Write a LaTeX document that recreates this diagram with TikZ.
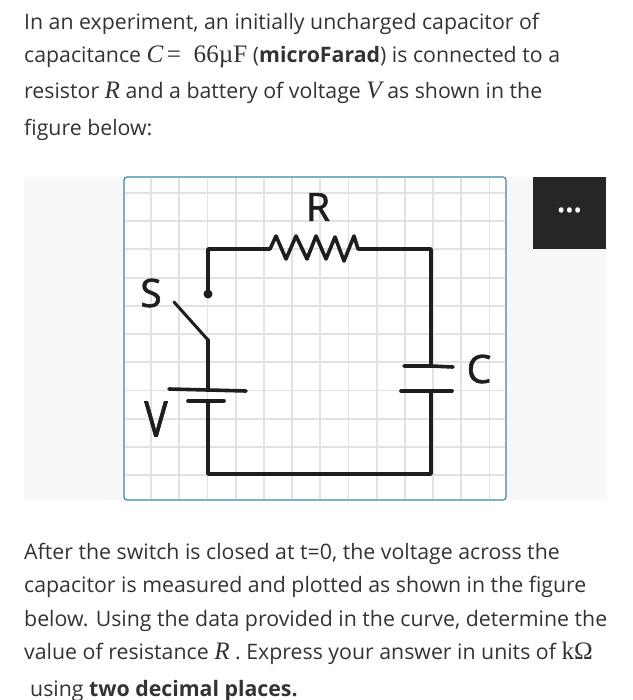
\documentclass[tikz,border=0pt]{standalone}
\usepackage{fontspec}
\setmainfont{Open Sans}
\newfontfamily\mathserif[Scale=1.18]{Liberation Serif}
\newfontfamily\handfont[FakeBold=1.6]{Open Sans}
\newcommand{\vbl}[1]{{\mathserif\itshape #1}}
\newcommand{\unt}[1]{{\mathserif #1}}
\definecolor{panelgray}{HTML}{F8F8F8}
\definecolor{gridgray}{HTML}{E2E2E4}
\definecolor{boxblue}{HTML}{3C86AC}
\definecolor{menudark}{HTML}{262626}
\definecolor{inkblack}{HTML}{1E1E1E}
\definecolor{textgray}{HTML}{333333}
\tikzset{
  textline/.style={anchor=base west, inner sep=0pt, text=textgray, font=\fontsize{21.3}{24}\selectfont},
  wire/.style={inkblack, line width=3.6pt, line join=round, line cap=round},
  plate/.style={inkblack, line width=3.6pt, line cap=round},
  letter/.style={inner sep=0pt, text=inkblack, font=\fontsize{39}{40}\handfont},
}
\begin{document}
\begin{tikzpicture}[x=1pt, y=-1pt]
\useasboundingbox (0,0) rectangle (632,700);

\node [textline] (line1) at (24, 30) {In an experiment, an initially uncharged capacitor of};
\node [textline] (line2) at (24, 63) {capacitance \vbl{C}\,\unt{=\ \ 66µF} (\textbf{microFarad}) is connected to a};
\node [textline] (line3) at (24, 99) {resistor \vbl{R} and a battery of voltage \vbl{V} as shown in the};
\node [textline] (line4) at (24, 136) {figure below:};

%%%%%%%%%%%%%%%%%%%%%%%%%%%%%%%%%%%%%%%%

\fill [panelgray] (24, 177) rectangle (606, 500);
\fill [white, rounded corners=3pt] (124, 177) rectangle (506, 500);
\foreach \x in {151, 179.2, ..., 490} \draw [gridgray, line width=1.8pt] (\x, 178) -- (\x, 499);
\foreach \y in {193, 221.2, ..., 480} \draw [gridgray, line width=1.8pt] (125, \y) -- (505, \y);
\draw [boxblue, line width=1.2pt, rounded corners=3pt] (124, 177) rectangle (506, 500);

\fill [menudark] (533, 177) rectangle (606, 249);
\node [white, inner sep=0pt, font=\fontsize{22}{22}\selectfont] (menu) at (569.5, 213) {•••};

%%%%%%%%%%%%%%%%%%%%%%%%%%%%%%%%%%%%%%%%

\path (208, 294) coordinate (contact) node [circle, fill=inkblack, inner sep=0pt, minimum size=9pt] (dot) {};
\path (208, 249) coordinate (topleft);
\path (270, 249) coordinate (resin);
\path (358, 249) coordinate (resout);
\path (431, 249) coordinate (topright);
\path (431, 366) coordinate (captop);
\path (431, 391) coordinate (capbot);
\path (431, 474) coordinate (botright);
\path (208, 474) coordinate (botleft);
\path (208, 401) coordinate (batbot);
\path (208, 390) coordinate (battop);
\path (208, 340) coordinate (hinge);
\path (174, 302) coordinate (swtip);

\draw [wire] (dot.center) -- (topleft) -- (resin)
  -- (276, 236) -- (286, 259) -- (296, 236) -- (307, 259) -- (316, 236)
  -- (326, 259) -- (335, 237) -- (344, 261) -- (354, 236)
  -- (resout) -- (topright) -- (captop);
\draw [wire] (capbot) -- (botright) -- (botleft) -- (batbot);
\draw [wire] (battop) -- (hinge);
\draw [inkblack, line width=3pt, line cap=round] (swtip) -- (hinge);

\draw [plate] (169, 389) -- (battop) -- (246, 391);
\draw [plate] (188, 401) -- (batbot) -- (224, 401);
\draw [plate] (404, 366) -- (captop) -- (453, 367);
\draw [plate] (401, 391) -- (capbot) -- (452, 391);

\node [letter] (labelR) at (318, 207) {R};
\node [letter] (labelS) at (151, 293) {S};
\node [letter] (labelV) at (156, 419) {\scalebox{1}[1.25]{V}};
\node [letter] (labelC) at (479, 369) {C};

%%%%%%%%%%%%%%%%%%%%%%%%%%%%%%%%%%%%%%%%

\node [textline] (line5) at (24, 559) {After the switch is closed at t=0, the voltage across the};
\node [textline] (line6) at (24, 592) {capacitor is measured and plotted as shown in the figure};
\node [textline] (line7) at (24, 626) {below. Using the data provided in the curve, determine the};
\node [textline] (line8) at (24, 659) {value of resistance \vbl{R}\ . Express your answer in units of \unt{kΩ}};
\node [textline] (line9) at (30, 696) {using \textbf{two decimal places.}};

\end{tikzpicture}
\end{document}
